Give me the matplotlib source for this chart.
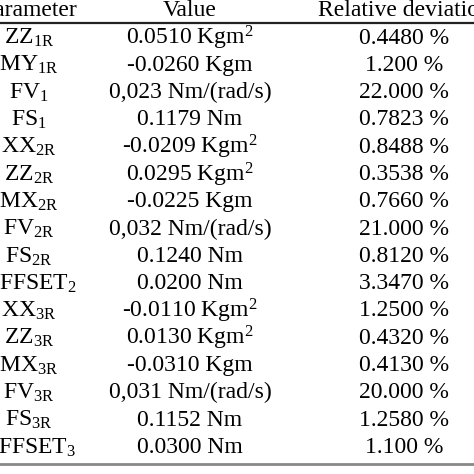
import matplotlib
matplotlib.use("Agg")
import matplotlib.pyplot as plt

plt.rcParams['font.family'] = ['Liberation Serif', 'DejaVu Serif']
plt.rcParams['mathtext.fontset'] = 'custom'
plt.rcParams['mathtext.rm'] = 'Liberation Serif'
plt.rcParams['mathtext.it'] = 'Liberation Serif:italic'

headers = ["Parameter", "Value", "Relative deviation"]
params = ["ZZ$_{\\mathrm{1R}}$", "MY$_{\\mathrm{1R}}$", "FV$_{\\mathrm{1}}$", "FS$_{\\mathrm{1}}$",
          "XX$_{\\mathrm{2R}}$", "ZZ$_{\\mathrm{2R}}$", "MX$_{\\mathrm{2R}}$", "FV$_{\\mathrm{2R}}$",
          "FS$_{\\mathrm{2R}}$", "OFFSET$_{\\mathrm{2}}$", "XX$_{\\mathrm{3R}}$", "ZZ$_{\\mathrm{3R}}$",
          "MX$_{\\mathrm{3R}}$", "FV$_{\\mathrm{3R}}$", "FS$_{\\mathrm{3R}}$", "OFFSET$_{\\mathrm{3}}$"]
values = ["0.0510 Kgm$^{\\mathrm{2}}$", "-0.0260 Kgm", "0,023 Nm/(rad/s)", "0.1179 Nm",
          "-0.0209 Kgm$^{\\mathrm{2}}$", "0.0295 Kgm$^{\\mathrm{2}}$", "-0.0225 Kgm", "0,032 Nm/(rad/s)",
          "0.1240 Nm", "0.0200 Nm", "-0.0110 Kgm$^{\\mathrm{2}}$", "0.0130 Kgm$^{\\mathrm{2}}$",
          "-0.0310 Kgm", "0,031 Nm/(rad/s)", "0.1152 Nm", "0.0300 Nm"]
deviations = ["0.4480 %", "1.200 %", "22.000 %", "0.7823 %", "0.8488 %", "0.3538 %", "0.7660 %",
              "21.000 %", "0.8120 %", "3.3470 %", "1.2500 %", "0.4320 %", "0.4130 %",
              "20.000 %", "1.2580 %", "1.100 %"]

fig = plt.figure(figsize=(4.74, 4.74), dpi=100)
ax = fig.add_axes([0, 0, 1, 1])
ax.set_xlim(0, 474)
ax.set_ylim(474, 0)
ax.axis('off')

cols = [29, 190, 404]
fs = 17
for x, h in zip(cols, headers):
    ax.text(x, 10, h, ha='center', va='center', fontsize=fs)
ax.plot([0, 474], [23, 23], color='#222222', lw=1.6)
ax.plot([0, 474], [464, 464], color='#888888', lw=2.0)

y0, dy = 38, 27.3
for i, (p, v, d) in enumerate(zip(params, values, deviations)):
    y = y0 + i * dy
    ax.text(cols[0], y, p, ha='center', va='center', fontsize=fs)
    ax.text(cols[1], y, v, ha='center', va='center', fontsize=fs)
    ax.text(cols[2], y, d, ha='center', va='center', fontsize=fs)

fig.savefig("out.png", dpi=100, facecolor='white')
